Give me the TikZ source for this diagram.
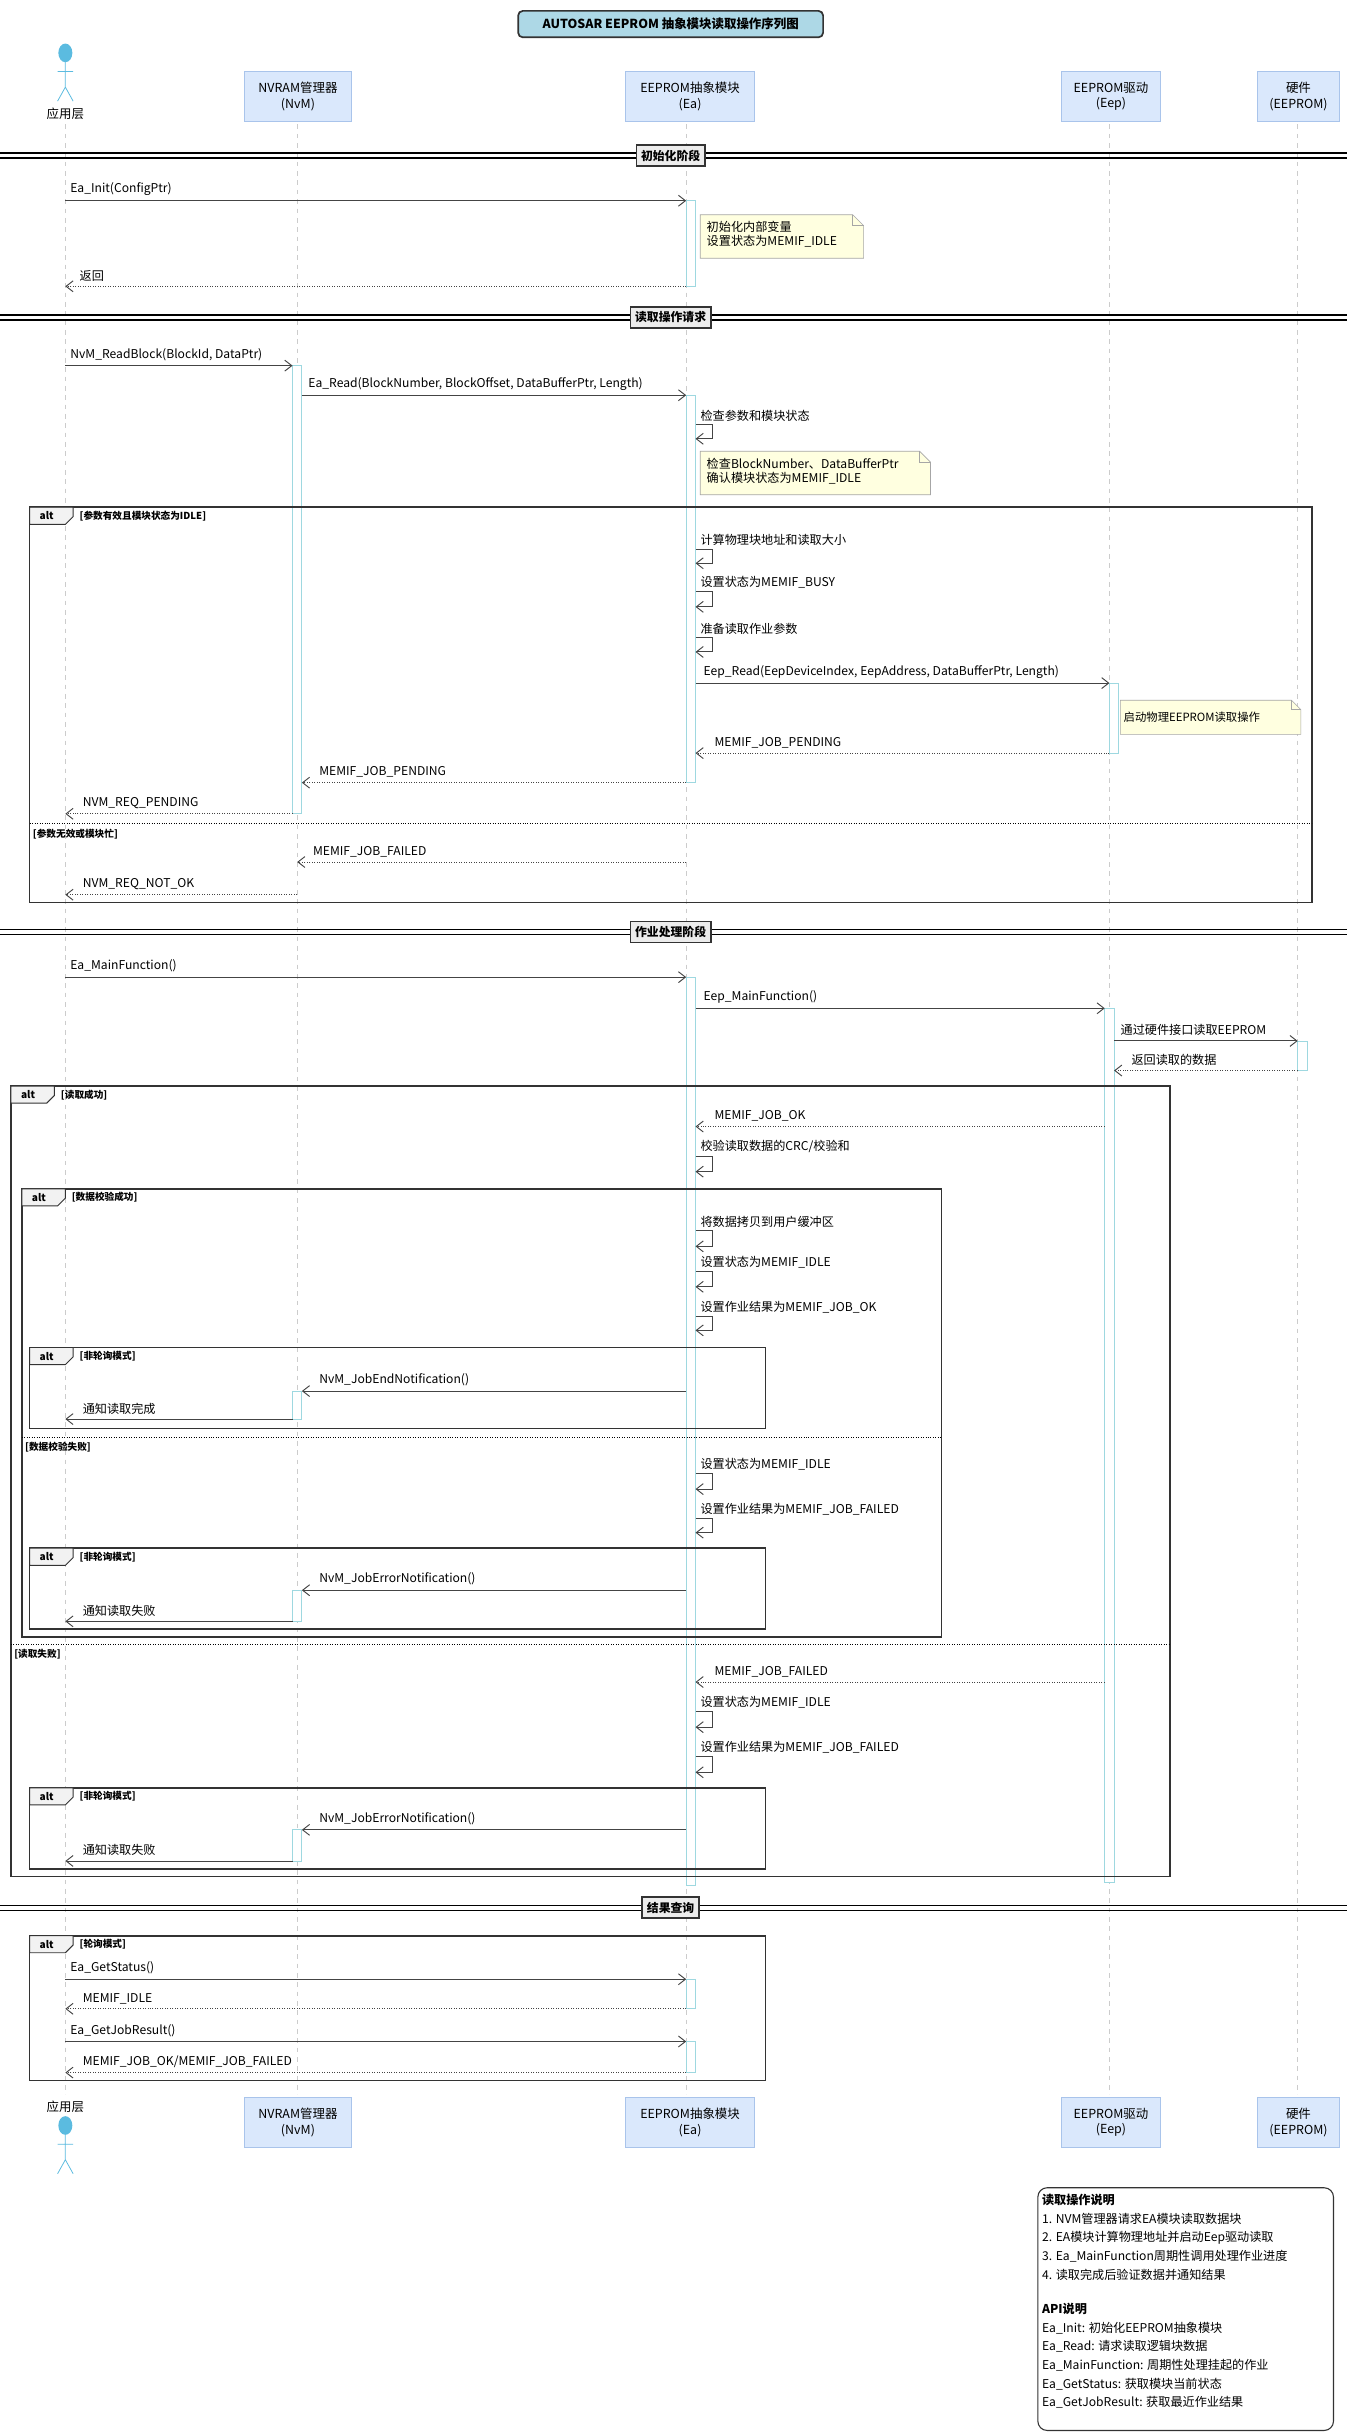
\documentclass[tikz,border=0pt]{standalone}
\usepackage{fontspec}
\setmainfont{Noto Sans CJK SC}
\usetikzlibrary{arrows.meta}
\definecolor{boxfill}{HTML}{DAE8FC}
\definecolor{boxline}{HTML}{A9C4EB}
\definecolor{notefill}{HTML}{FFFFE0}
\definecolor{actline}{HTML}{9ED8E0}
\definecolor{msgcol}{HTML}{444444}
\definecolor{actorcol}{HTML}{5BBBE0}
\definecolor{titlefill}{HTML}{ADD8E6}
\tikzset{
 lbl/.style={font=\fontsize{7.8}{9}\selectfont, inner sep=1pt, text=black},
 msgline/.style={draw=msgcol, line width=0.6pt, -{Straight Barb[length=4.5pt,width=7pt]}},
 retline/.style={msgline, densely dotted},
 partbox/.style={draw=boxline, fill=boxfill, minimum width=#1, minimum height=32pt, align=center, font=\fontsize{8}{10}\selectfont, inner sep=1pt},
 lifeline/.style={draw=gray!40, dashed, line width=0.4pt},
 actbar/.style={draw=actline, fill=white, line width=0.5pt},
 notebox/.style={draw=gray!70, fill=notefill, line width=0.4pt},
 framebox/.style={draw=black!80, line width=1.1pt},
 divlbl/.style={draw=black!80, fill=gray!15, line width=1.1pt, font=\bfseries\fontsize{7.6}{8}\selectfont, inner sep=3pt},
 guard/.style={font=\bfseries\fontsize{6.2}{7}\selectfont, inner sep=0pt, anchor=west}
}
\newcommand\mymsg[6][msgline]{\draw[#1] (#2,#4) -- (#3,#4);
 \node[lbl, anchor=south west] at (#5,#4-2) {#6};}
\newcommand\myself[3]{\draw[msgline] (447,#2) -- (458,#2) -- (458,#3) -- (447,#3);
 \node[lbl, anchor=south west] at (449,#2-1) {#1};}
\newcommand\mydiv[2]{\draw[line width=0.8pt] (0,#1-1.6) -- (866,#1-1.6) (0,#1+1.6) -- (866,#1+1.6);
 \node[divlbl] at (431,#1) {#2};}
\newcommand\myalt[5]{\draw[framebox] (#1,#2) rectangle (#3,#4);
 \draw[draw=black!80, fill=gray!10, line width=0.6pt] (#1,#2) -- (#1+28,#2) -- (#1+28,#2+6) -- (#1+23,#2+11) -- (#1,#2+11) -- cycle;
 \node[font=\bfseries\fontsize{6.5}{7}\selectfont] at (#1+11,#2+5.5) {alt};
 \node[guard] at (#1+32,#2+5.5) {[#5]};}
\newcommand\mysep[3]{\draw[densely dotted, line width=0.6pt] (#1,#3) -- (#2,#3);}
\newcommand\myactor[2]{\fill[actorcol] (#1,#2) ellipse (4.5pt and 6pt);
 \draw[actorcol, line width=0.5pt] (#1,#2+6) -- (#1,#2+22) (#1-5,#2+12) -- (#1+5,#2+12) (#1-5,#2+31) -- (#1,#2+22) -- (#1+5,#2+31);}
\begin{document}
\begin{tikzpicture}[x=1pt,y=-1pt]
\useasboundingbox (0,0) rectangle (866,1563);
\fill[white] (0,0) rectangle (866,1563);
% title
\node[draw=black!80, line width=1.1pt, rounded corners=3pt, fill=titlefill, font=\bfseries\fontsize{8}{9}\selectfont, minimum width=196pt, minimum height=17pt, inner sep=1pt] (title) at (431,15.5) {AUTOSAR EEPROM 抽象模块读取操作序列图};
% lifelines
\foreach \x in {42,191,441,713,834} {\draw[lifeline] (\x,80) -- (\x,1346);}
% participants
\node[partbox=69pt] (nvm) at (191.5,62) {NVRAM管理器\\(NvM)};
\node[partbox=83pt] (ea) at (443.5,62) {EEPROM抽象模块\\(Ea)};
\node[partbox=64pt] (eep) at (714,62) {EEPROM驱动\\(Eep)};
\node[partbox=53pt] (hw) at (834.5,62) {硬件\\(EEPROM)};
\node[partbox=69pt] (nvmb) at (191.5,1364) {NVRAM管理器\\(NvM)};
\node[partbox=83pt] (eab) at (443.5,1364) {EEPROM抽象模块\\(Ea)};
\node[partbox=64pt] (eepb) at (714,1364) {EEPROM驱动\\(Eep)};
\node[partbox=53pt] (hwb) at (834.5,1364) {硬件\\(EEPROM)};
\myactor{42}{34}
\node[lbl, font=\fontsize{8}{9}\selectfont] (app) at (42,73) {应用层};
\node[lbl, font=\fontsize{8}{9}\selectfont] (appb) at (42,1354) {应用层};
\myactor{42}{1366}
% activation bars
\draw[actbar] (441,129) rectangle (447,184);
\draw[actbar] (188,235) rectangle (194,523);
\draw[actbar] (441,254) rectangle (447,503);
\draw[actbar] (713,439) rectangle (719,484);
\draw[actbar] (441,628) rectangle (447,1212);
\draw[actbar] (710,648) rectangle (716,1210);
\draw[actbar] (834,669) rectangle (840,688);
\draw[actbar] (188,894) rectangle (194,912);
\draw[actbar] (188,1022) rectangle (194,1042);
\draw[actbar] (188,1176) rectangle (194,1196);
\draw[actbar] (441,1272) rectangle (447,1291);
\draw[actbar] (441,1312) rectangle (447,1332);
% init
\mydiv{100}{初始化阶段}
\mymsg{42}{441}{129}{44}{Ea\_Init(ConfigPtr)}
\draw[notebox] (450,138) -- (548,138) -- (555,145) -- (555,166) -- (450,166) -- cycle;
\draw[gray!70, line width=0.4pt] (548,138) -- (548,145) -- (555,145);
\node[lbl, anchor=north west, align=left] (n1) at (453,141) {初始化内部变量\\设置状态为MEMIF\_IDLE};
\mymsg[retline]{441}{42}{184}{50}{返回}
% read request
\mydiv{204}{读取操作请求}
\mymsg{42}{188}{235}{44}{NvM\_ReadBlock(BlockId, DataPtr)}
\mymsg{194}{441}{254}{197}{Ea\_Read(BlockNumber, BlockOffset, DataBufferPtr, Length)}
\myself{检查参数和模块状态}{273}{282}
\draw[notebox] (450,290) -- (591,290) -- (598,297) -- (598,318) -- (450,318) -- cycle;
\draw[gray!70, line width=0.4pt] (591,290) -- (591,297) -- (598,297);
\node[lbl, anchor=north west, align=left] (n2) at (453,293) {检查BlockNumber、DataBufferPtr\\确认模块状态为MEMIF\_IDLE};
\myalt{19}{326}{843}{580}{参数有效且模块状态为IDLE}
\myself{计算物理块地址和读取大小}{353}{362}
\myself{设置状态为MEMIF\_BUSY}{380}{390}
\myself{准备读取作业参数}{410}{419}
\mymsg{447}{713}{439}{451}{Eep\_Read(EepDeviceIndex, EepAddress, DataBufferPtr, Length)}
\draw[notebox] (720,450) -- (830,450) -- (836,456) -- (836,472) -- (720,472) -- cycle;
\draw[gray!70, line width=0.4pt] (830,450) -- (830,456) -- (836,456);
\node[lbl, anchor=west, font=\fontsize{7.3}{8}\selectfont] (n3) at (721,461) {启动物理EEPROM读取操作};
\mymsg[retline]{713}{447}{484}{458}{MEMIF\_JOB\_PENDING}
\mymsg[retline]{441}{194}{503}{204}{MEMIF\_JOB\_PENDING}
\mymsg[retline]{188}{42}{523}{52}{NVM\_REQ\_PENDING}
\mysep{19}{843}{529}
\node[guard] at (21,536) {[参数无效或模块忙]};
\mymsg[retline]{441}{191}{554}{200}{MEMIF\_JOB\_FAILED}
\mymsg[retline]{191}{42}{575}{52}{NVM\_REQ\_NOT\_OK}
% processing
\mydiv{599}{作业处理阶段}
\mymsg{42}{441}{628}{44}{Ea\_MainFunction()}
\mymsg{447}{710}{648}{451}{Eep\_MainFunction()}
\mymsg{716}{834}{669}{719}{通过硬件接口读取EEPROM}
\mymsg[retline]{834}{716}{688}{726}{返回读取的数据}
\myalt{7}{698}{752}{1206}{读取成功}
\mymsg[retline]{710}{447}{724}{458}{MEMIF\_JOB\_OK}
\myself{校验读取数据的CRC/校验和}{743}{753}
\myalt{14}{764}{605}{1052}{数据校验成功}
\myself{将数据拷贝到用户缓冲区}{791}{801}
\myself{设置状态为MEMIF\_IDLE}{817}{827}
\myself{设置作业结果为MEMIF\_JOB\_OK}{846}{855}
\myalt{19}{866}{492}{918}{非轮询模式}
\mymsg{441}{194}{894}{204}{NvM\_JobEndNotification()}
\mymsg{188}{42}{912}{52}{通知读取完成}
\mysep{14}{605}{924}
\node[guard] at (16,930) {[数据校验失败]};
\myself{设置状态为MEMIF\_IDLE}{947}{957}
\myself{设置作业结果为MEMIF\_JOB\_FAILED}{976}{985}
\myalt{19}{995}{492}{1047}{非轮询模式}
\mymsg{441}{194}{1022}{204}{NvM\_JobErrorNotification()}
\mymsg{188}{42}{1042}{52}{通知读取失败}
\mysep{7}{752}{1057}
\node[guard] at (9,1063) {[读取失败]};
\mymsg[retline]{710}{447}{1081}{458}{MEMIF\_JOB\_FAILED}
\myself{设置状态为MEMIF\_IDLE}{1100}{1110}
\myself{设置作业结果为MEMIF\_JOB\_FAILED}{1129}{1139}
\myalt{19}{1149}{492}{1201}{非轮询模式}
\mymsg{441}{194}{1176}{204}{NvM\_JobErrorNotification()}
\mymsg{188}{42}{1196}{52}{通知读取失败}
% result query
\mydiv{1226}{结果查询}
\myalt{19}{1244}{492}{1337}{轮询模式}
\mymsg{42}{441}{1272}{44}{Ea\_GetStatus()}
\mymsg[retline]{441}{42}{1291}{52}{MEMIF\_IDLE}
\mymsg{42}{441}{1312}{44}{Ea\_GetJobResult()}
\mymsg[retline]{441}{42}{1332}{52}{MEMIF\_JOB\_OK/MEMIF\_JOB\_FAILED}
% legend
\draw[draw=black!80, line width=0.7pt, rounded corners=6pt] (667,1406) rectangle (857,1562);
\node[anchor=north west, align=left, inner sep=0pt, font=\fontsize{7.8}{12}\selectfont] (legend) at (669.5,1410) {\textbf{读取操作说明}\\1. NVM管理器请求EA模块读取数据块\\2. EA模块计算物理地址并启动Eep驱动读取\\3. Ea\_MainFunction周期性调用处理作业进度\\4. 读取完成后验证数据并通知结果\\[10pt]\textbf{API说明}\\Ea\_Init: 初始化EEPROM抽象模块\\Ea\_Read: 请求读取逻辑块数据\\Ea\_MainFunction: 周期性处理挂起的作业\\Ea\_GetStatus: 获取模块当前状态\\Ea\_GetJobResult: 获取最近作业结果};
\end{tikzpicture}
\end{document}
